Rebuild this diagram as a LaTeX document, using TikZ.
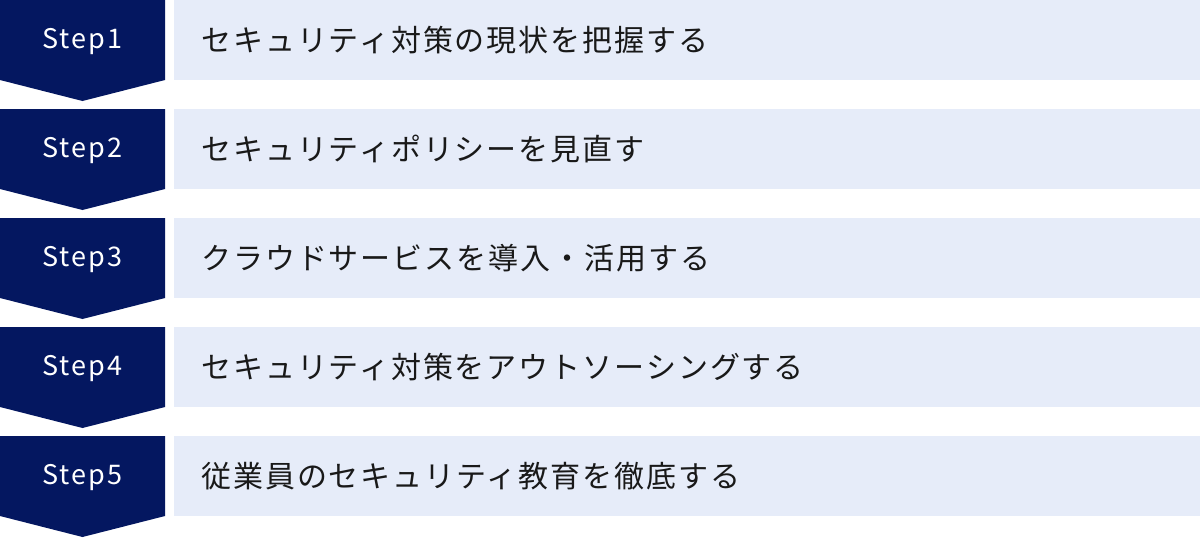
\documentclass[tikz,border=0pt]{standalone}
\usepackage{fontspec}
\setmainfont{Noto Sans CJK JP}
\newfontfamily\jpfont[LetterSpace=6.5]{Noto Sans CJK JP}
\newfontfamily\stepfont[LetterSpace=8]{Noto Sans CJK JP}
\definecolor{navy}{RGB}{4,23,96}
\definecolor{pale}{RGB}{230,236,249}
\begin{document}
\begin{tikzpicture}[x=1pt,y=-1pt,
  stepshape/.style={fill=navy},
  barbox/.style={fill=pale},
  steplabel/.style={text=white,font=\stepfont\fontsize{27}{32}\selectfont,inner sep=0pt,anchor=center},
  bartext/.style={text=black!90,font=\jpfont\fontsize{30}{36}\selectfont,inner sep=0pt,anchor=west}]
\useasboundingbox (0,0) rectangle (1200,538);
\fill[white] (0,0) rectangle (1200,538);
\foreach \i/\t in {1/{セキュリティ対策の現状を把握する},
                   2/{セキュリティポリシーを見直す},
                   3/{クラウドサービスを導入・活用する},
                   4/{セキュリティ対策をアウトソーシングする},
                   5/{従業員のセキュリティ教育を徹底する}}{
  \pgfmathsetmacro{\yy}{(\i-1)*109}
  \path[stepshape] (0,\yy) -- (165,\yy) -- (165,\yy+80) -- (82.5,\yy+101) -- (0,\yy+80) -- cycle;
  \path[barbox] (174,\yy) rectangle (1200,\yy+80);
  \node[steplabel] (label\i) at (82.5,\yy+42) {Step\i};
  \node[bartext] (text\i) at (201,\yy+40) {\t};
}
\end{tikzpicture}
\end{document}
